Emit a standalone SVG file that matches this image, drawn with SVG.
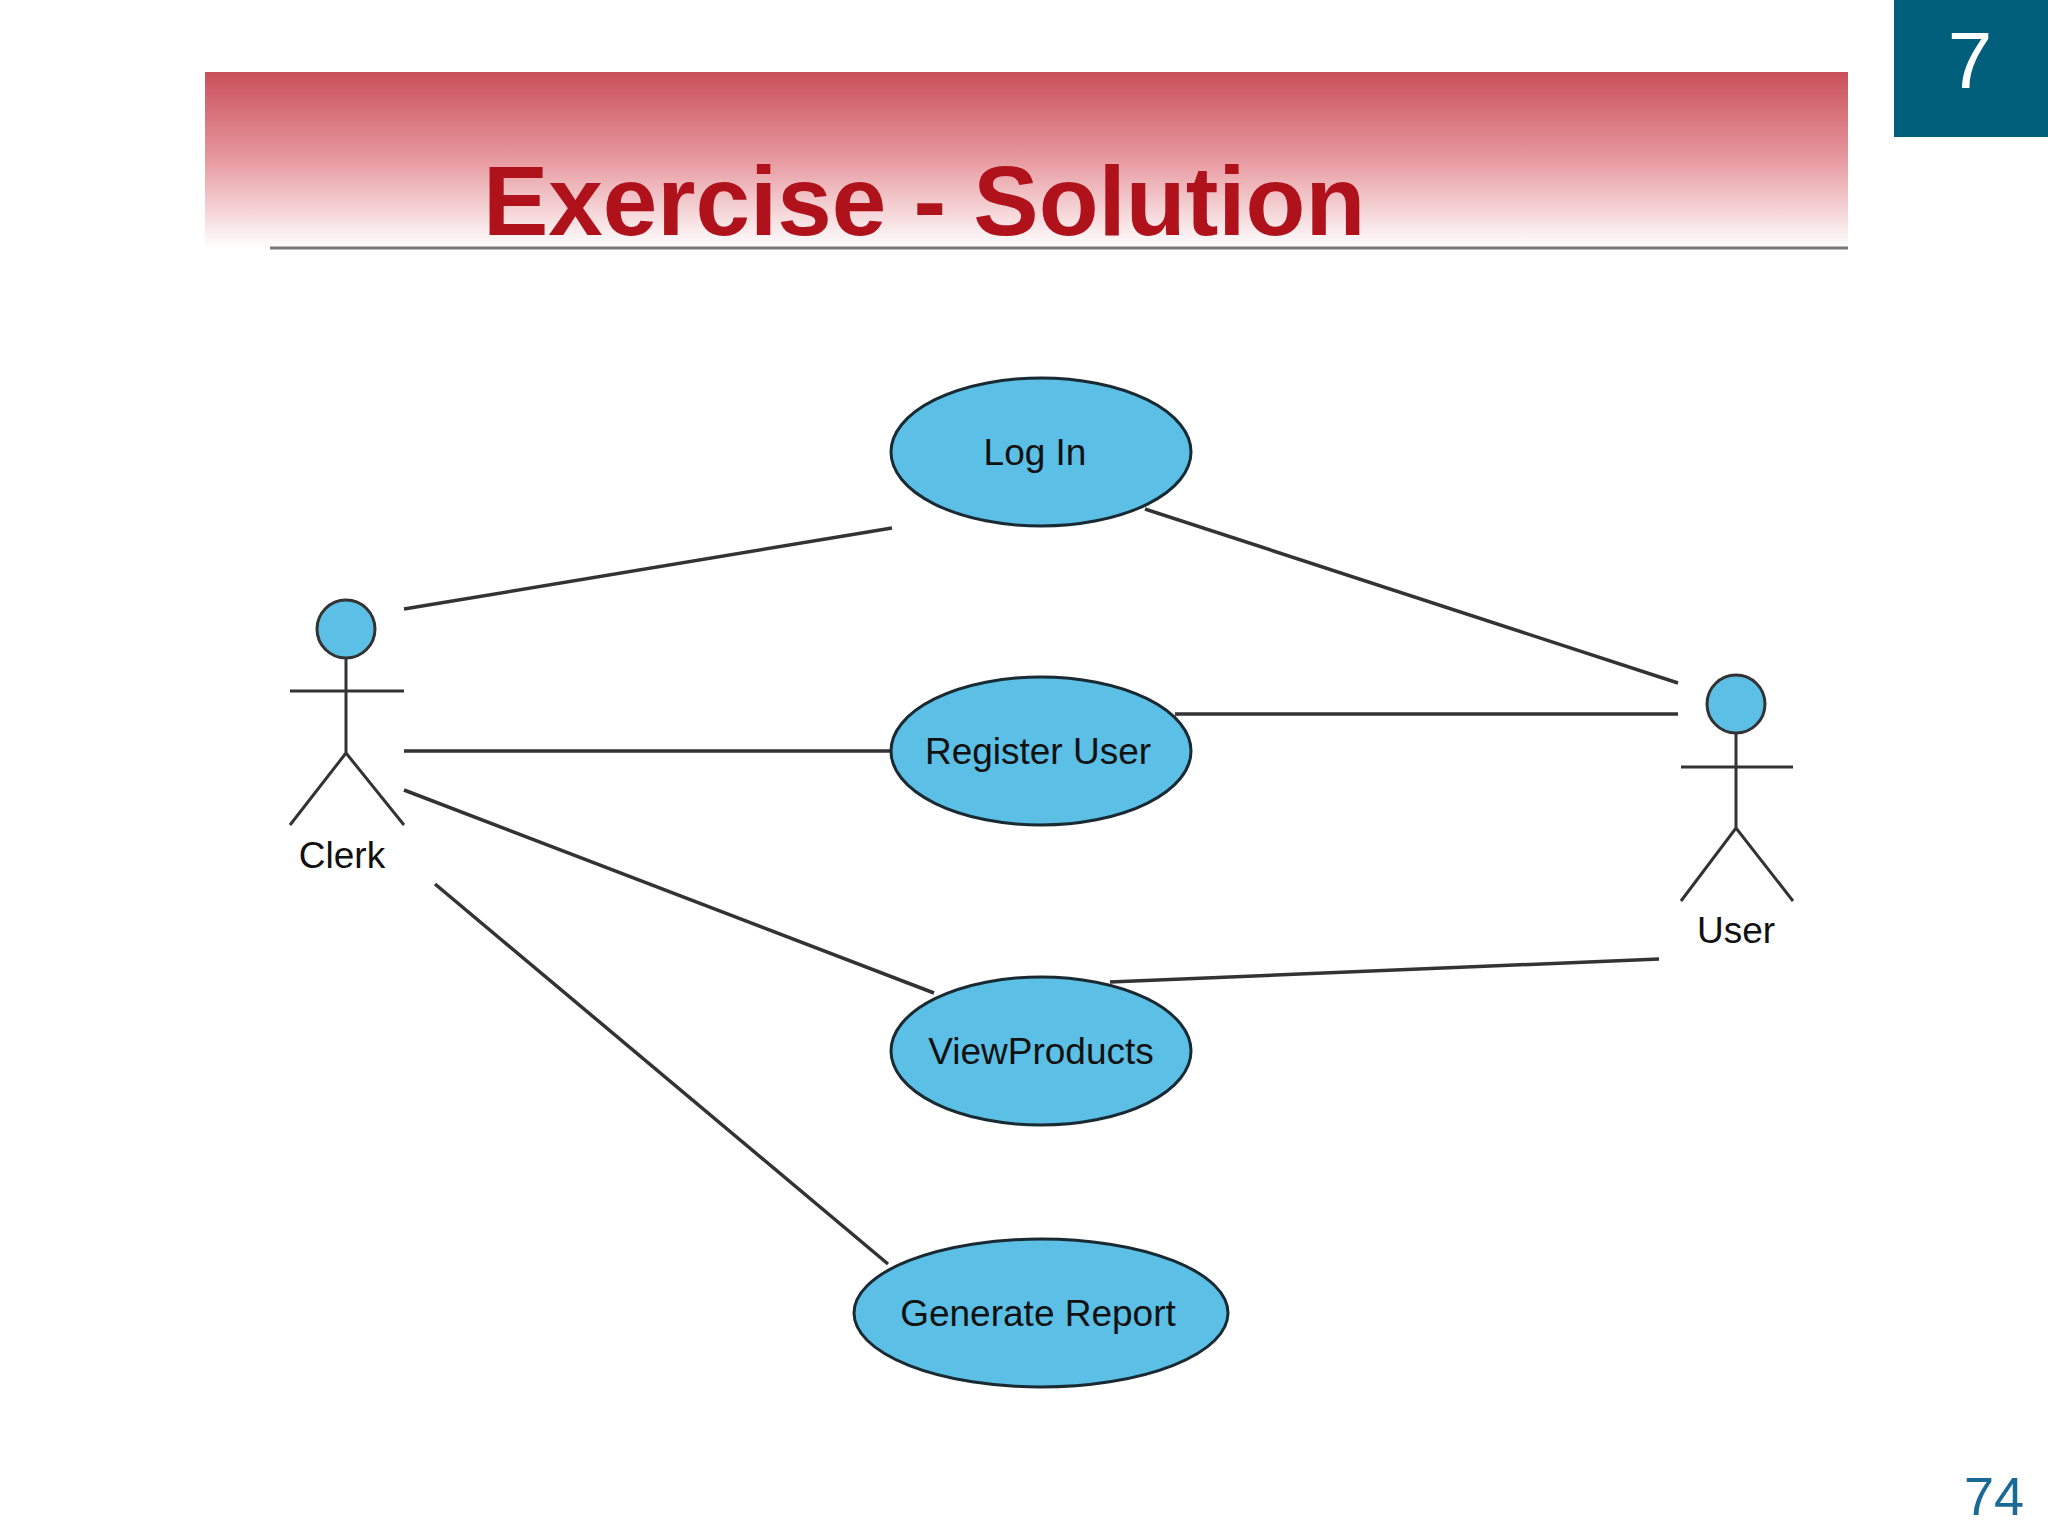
<svg xmlns="http://www.w3.org/2000/svg" width="2048" height="1536" viewBox="0 0 2048 1536">
<defs>
<linearGradient id="hg" x1="0" y1="0" x2="0" y2="1">
<stop offset="0" stop-color="#c9505a"/><stop offset="0.5" stop-color="#e79aa0"/><stop offset="1" stop-color="#ffffff"/>
</linearGradient>
<style>
.uc{fill:#5bbfe6;stroke:#1a2a33;stroke-width:3}
.ut{font-family:"Liberation Sans",Arial,sans-serif;font-size:37px;fill:#111;text-anchor:middle}
.ac{fill:none;stroke:#333;stroke-width:3}
.ln{stroke:#333;stroke-width:3.5;fill:none}
</style>
</defs>
<rect width="2048" height="1536" fill="#fff"/>
<rect x="205" y="72" width="1643" height="176" fill="url(#hg)"/>
<line x1="270" y1="248" x2="1848" y2="248" stroke="#777" stroke-width="3"/>
<text x="483" y="235" font-family="Liberation Sans,Arial,sans-serif" font-weight="bold" font-size="98" fill="#b0121c">Exercise - Solution</text>
<rect x="1894" y="0" width="154" height="137" fill="#005f7a"/>
<text x="1970" y="88" font-family="Liberation Sans,Arial,sans-serif" font-size="80" fill="#fff" text-anchor="middle">7</text>
<text x="2024" y="1515" font-family="Liberation Sans,Arial,sans-serif" font-size="54" fill="#1a6a96" text-anchor="end">74</text>
<g id="connectors">
<line class="ln" x1="404" y1="609" x2="892" y2="528"/>
<line class="ln" x1="1145" y1="509" x2="1678" y2="683"/>
<line class="ln" x1="404" y1="751" x2="892" y2="751"/>
<line class="ln" x1="1175" y1="714" x2="1678" y2="714"/>
<line class="ln" x1="404" y1="790" x2="934" y2="993"/>
<line class="ln" x1="1110" y1="982" x2="1659" y2="959"/>
<line class="ln" x1="435" y1="884" x2="888" y2="1264"/>
</g>
<g id="login"><ellipse class="uc" cx="1041" cy="452" rx="150" ry="74"/><text class="ut" x="1035" y="465">Log In</text></g>
<g id="register"><ellipse class="uc" cx="1041" cy="751" rx="150" ry="74"/><text class="ut" x="1038" y="764">Register User</text></g>
<g id="view"><ellipse class="uc" cx="1041" cy="1051" rx="150" ry="74"/><text class="ut" x="1041" y="1064">ViewProducts</text></g>
<g id="report"><ellipse class="uc" cx="1041" cy="1313" rx="187" ry="74"/><text class="ut" x="1038" y="1326">Generate Report</text></g>
<g id="clerk">
<circle cx="346" cy="629" r="29" fill="#5bbfe6" stroke="#333" stroke-width="3"/>
<path class="ac" d="M346 658V753M290 691H404M290 825L346 753L404 825"/>
<text class="ut" x="342" y="868" font-size="35">Clerk</text>
</g>
<g id="user">
<circle cx="1736" cy="704" r="29" fill="#5bbfe6" stroke="#333" stroke-width="3"/>
<path class="ac" d="M1736 733V828M1681 767H1793M1681 901L1736 828L1793 901"/>
<text class="ut" x="1736" y="943" font-size="35">User</text>
</g>
</svg>
